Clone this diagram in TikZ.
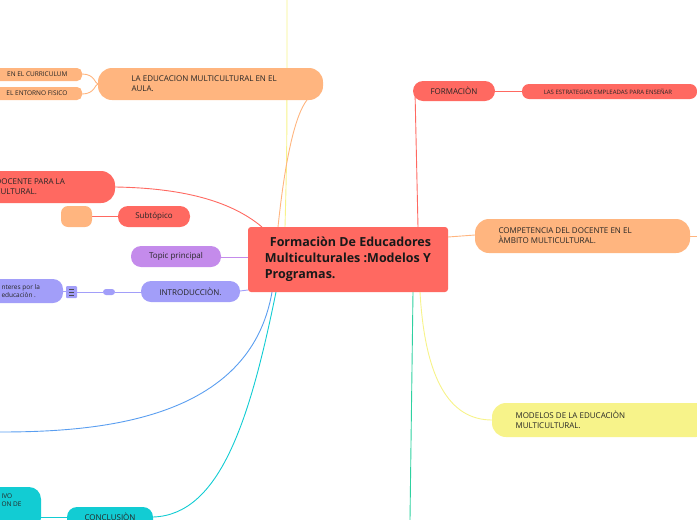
\documentclass[tikz,border=0pt]{standalone}
\usepackage{fontspec}
\setmainfont{Open Sans}
\definecolor{cred}{HTML}{FF6961}
\definecolor{corange}{HTML}{FFB57F}
\definecolor{cyel}{HTML}{F7F38A}
\definecolor{cpurp}{HTML}{C48BEB}
\definecolor{clav}{HTML}{A29EF9}
\definecolor{ccyan}{HTML}{12CCD3}
\definecolor{cblue}{HTML}{5A9EF0}
\definecolor{cgreen}{HTML}{2ED1A0}
\begin{document}
\begin{tikzpicture}[x=1pt,y=-1pt,
 box/.style={rounded corners=#1,inner sep=0pt},
 txt/.style={font=\fontsize{8}{10}\selectfont,align=left,anchor=west,text=black!85},
 tiny/.style={font=\fontsize{6.5}{8}\selectfont,text=black!85},
 ln/.style={line width=0.9pt}]
\useasboundingbox (0,0) rectangle (697,520);
% connectors
\coordinate (ytop) at (287,0);
\coordinate (gbot) at (410,520);
\coordinate (bleft) at (0,432);
\draw[ln,cyel] (285,227) .. controls (287,150) .. (ytop);
\draw[ln,corange] (278,227) .. controls (285,160) and (295,115) .. (307,100);
\draw[ln,cred] (262,227) .. controls (230,200) and (180,188) .. (115,187);
\draw[ln,cblue] (272,292) .. controls (250,420) and (100,432) .. (bleft);
\draw[ln,ccyan] (276,292) .. controls (250,420) and (220,515) .. (153,517);
\draw[ln,cred] (418,227) -- (415,91);
\draw[ln,corange] (448,237) -- (475,235);
\draw[ln,corange] (690,236) -- (697,236);
\draw[ln,cyel] (420,292) .. controls (425,380) and (450,420) .. (492,420);
\draw[ln,cgreen] (413,292) -- (gbot);
\draw[ln,cpurp] (221,257) -- (248,257);
\draw[ln,clav] (240,291) -- (248,290);
\draw[ln,clav] (115,292) -- (141,292);
\draw[ln,clav] (77,292) -- (103,292);
\draw[ln,clav] (63,291) -- (66,291);
\draw[ln,cred] (495,91) -- (522,91);
\draw[ln,cred] (92,216) -- (118,216);
\draw[ln,corange] (82,74) .. controls (95,74) and (95,84) .. (98,84);
\draw[ln,corange] (82,94) .. controls (95,94) and (95,84) .. (98,84);
\draw[ln,ccyan] (41,517) -- (67,517);
% nodes
\fill[cred,rounded corners=3] (248,227) rectangle (448,292);
\node[font=\fontsize{12.5}{16}\selectfont\bfseries,align=left,text=black!90] (c) at (348,259.5) {\hspace*{5pt}Formaciòn De Educadores\\Multiculturales :Modelos Y\\Programas.};
\fill[corange,rounded corners=14] (98,68) rectangle (323,100);
\node[txt] (aula) at (128,84) {LA EDUCACION MULTICULTURAL EN EL\\AULA.};
\fill[corange,rounded corners=5] (-10,68) rectangle (82,81);
\node[tiny,anchor=east] (cur) at (71,74.5) {EN EL CURRICULUM};
\fill[corange,rounded corners=5] (-10,87) rectangle (82,100);
\node[tiny,anchor=east] (ent) at (71,93.5) {EL ENTORNO FISICO};
\fill[cred,rounded corners=14] (-20,171) rectangle (115,203);
\node[txt] (doc) at (-8,187) {DOCENTE PARA LA\\CULTURAL.};
\fill[corange,rounded corners=7] (61,206) rectangle (92,227);
\fill[cred,rounded corners=10] (118,206) rectangle (190,227);
\node[txt,anchor=center] (sub) at (154,216.5) {Subtópico};
\fill[cpurp,rounded corners=10] (131,246) rectangle (221,267);
\node[txt,anchor=center] (top) at (176,256.5) {Topic principal};
\fill[clav,rounded corners=10] (141,281) rectangle (240,302);
\node[txt,anchor=center] (intro) at (190.5,291.5) {INTRODUCCIÒN.};
\fill[clav,rounded corners=3] (103,289) rectangle (115,295);
\fill[clav,rounded corners=1] (66,286) rectangle (77,298);
\foreach \yy in {289,292,295} \draw[black!70,line width=0.6pt] (69,\yy) -- (74,\yy);
\fill[clav,rounded corners=10] (-20,279) rectangle (63,303);
\node[tiny,align=left,anchor=west] (nt) at (-2,291) {nteres por la\\educaciòn .};
\fill[ccyan,rounded corners=10] (67,507) rectangle (153,530);
\node[txt,anchor=center] (conc) at (110,517) {CONCLUSIÒN};
\fill[ccyan,rounded corners=12] (-20,487) rectangle (41,530);
\node[tiny,align=left,anchor=west] (ivo) at (-2,500) {IVO\\ON DE};
\fill[cred,rounded corners=10] (413,81) rectangle (495,101);
\node[txt,anchor=center] (form) at (454,91) {FORMACIÒN};
\fill[cred,rounded corners=7] (522,84) rectangle (697,99);
\node[tiny,anchor=center,font=\fontsize{6}{7}\selectfont] (est) at (608,91.5) {LAS ESTRATEGIAS EMPLEADAS PARA ENSEÑAR};
\fill[corange,rounded corners=14] (475,219) rectangle (690,253);
\node[txt] (comp) at (495,236) {COMPETENCIA DEL DOCENTE EN EL\\ÀMBITO MULTICULTURAL.};
\fill[cyel,rounded corners=14] (492,403) rectangle (710,437);
\node[txt] (mod) at (512,420) {MODELOS DE LA EDUCACIÒN\\MULTICULTURAL.};
\end{tikzpicture}
\end{document}
